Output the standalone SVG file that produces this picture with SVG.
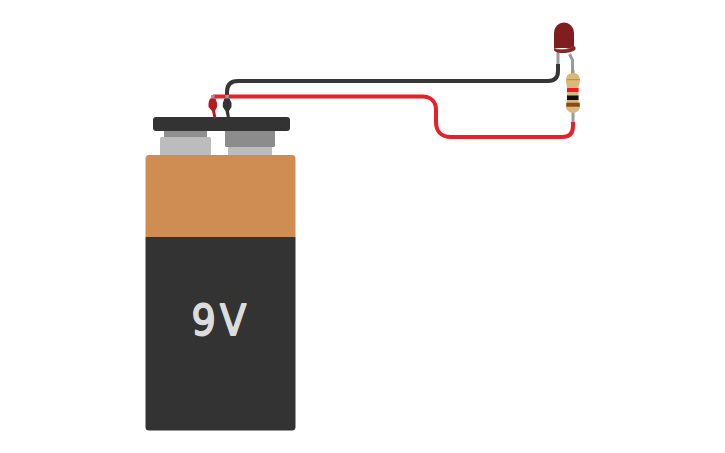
<svg xmlns="http://www.w3.org/2000/svg" width="725" height="453" viewBox="0 0 725 453">
<style>
.wire{fill:none;stroke-width:4;stroke-linecap:butt}
.lead{fill:none;stroke:#9a9a9a;stroke-width:3}
</style>
<rect width="725" height="453" fill="#fff"/>
<g id="battery">
<rect x="164" y="130" width="43" height="7" fill="#8f8f8f"/>
<rect x="160" y="137" width="51" height="19" rx="1.5" fill="#bcbcbc"/>
<rect x="228" y="146" width="44" height="10" fill="#bcbcbc"/>
<rect x="225" y="130" width="50" height="17" rx="1.5" fill="#8c8c8c"/>
<rect x="153" y="117" width="137" height="14" rx="3" fill="#333"/>
<path d="M149,155H292a3.500,3.500 0 0 1 3.500,3.500V237H145.500V158.500a3.500,3.500 0 0 1 3.500,-3.500Z" fill="#cf8d54"/>
<path d="M145.500,237H295.500V427a3.500,3.500 0 0 1 -3.500,3.500H149a3.500,3.500 0 0 1 -3.500,-3.500Z" fill="#333"/>
<text transform="translate(191.500,335) scale(.88,1)" x="0 32.500" font-family="'DejaVu Sans',sans-serif" font-size="43.500" fill="#dcdcdc" stroke="#dcdcdc" stroke-width="1.800" stroke-linejoin="round">9V</text>
</g>
<g id="led">
<path class="lead" d="M558,52V66"/>
<path class="lead" d="M569.500,54L572.500,60V74"/>
<path d="M554,48V33a10,10.500 0 0 1 20,0V48Z" fill="#7f1d1f"/>
<path d="M554,48C558,51 570,50 574,45.500L575.500,47.500V49.500C572,53.500 558,54.500 554,50.500Z" fill="#8a2426"/>
<path d="M554,48C558,51 570,50 574,45.500" fill="none" stroke="#96403f" stroke-width="0.800"/>
</g>
<g id="resistor">
<path class="lead" d="M573,70V75"/>
<path class="lead" d="M573,111V123"/>
<path d="M573,73C577.500,73 580,76 580,80C580,84 578.500,85 578.500,88V100C578.500,103 580,104 580,107C580,110 576,113 573,113C570,113 566,110 566,107C566,104 567,103 567,100V88C567,85 566,84 566,80C566,76 568.500,73 573,73Z" fill="#dcb878"/>
<rect x="567" y="79" width="13" height="1.200" fill="#b09a50"/>
<rect x="567" y="88" width="11.500" height="4" fill="#ee1c24"/>
<rect x="567" y="95.500" width="11.500" height="4.500" fill="#111"/>
<rect x="566.300" y="102.700" width="13.500" height="4" fill="#8a4a14"/>
</g>
<g id="connectors">
<path class="wire" stroke="#363636" d="M227,100V92Q227,81 238,81H548Q558,81 558,71V64"/>
<path class="wire" stroke="#e62129" d="M213,96.500H422C431,96.500 436,102 436,110V122C436,131 441,137 451,137H562Q573,137 573,126V122"/>
</g>
<g id="clip-red">
<rect x="211" y="95" width="3.500" height="4" fill="#9a9a9a"/>
<path d="M210,98.500H215.500L217,103V107L215,111L216.500,118H213.500L212,111L208.500,107V103Z" fill="#b31d22"/>
</g>
<g id="clip-black">
<rect x="225.300" y="95" width="3.500" height="4" fill="#9a9a9a"/>
<path d="M224.500,98.500H229.500L231.500,103V107L229,111L230,118H227L225.500,111L222.800,107V103Z" fill="#333"/>
</g>
</svg>
